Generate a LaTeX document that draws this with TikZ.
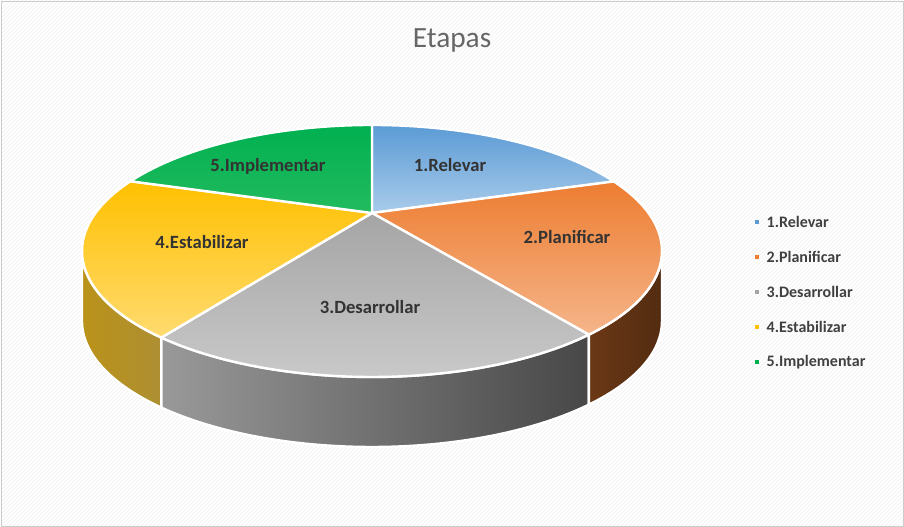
\documentclass[tikz,border=0pt]{standalone}
\usepackage{fontspec}
\setmainfont{Carlito}
\usetikzlibrary{calc,patterns}
\definecolor{cblue}{HTML}{5B9BD5}\definecolor{cblueL}{HTML}{A9CBEA}
\definecolor{corg}{HTML}{ED7D31}\definecolor{corgL}{HTML}{F5B58A}
\definecolor{cgry}{HTML}{A5A5A5}\definecolor{cgryL}{HTML}{CACACA}
\definecolor{cyel}{HTML}{FFC000}\definecolor{cyelL}{HTML}{FFDB70}
\definecolor{cgrn}{HTML}{00B050}\definecolor{cgrnL}{HTML}{22BB5E}
\tikzset{lab/.style={font=\bfseries\fontsize{14}{16}\selectfont,text=black!80},
 leg/.style={font=\bfseries\fontsize{12}{14}\selectfont,text=black!75,anchor=west},
 sep/.style={draw=white,line width=1.8pt,line join=round}}
\newcommand{\slicetop}[4]{\shade[top color=#3,bottom color=#4] (V) -- ($(C)+(#1:217.5pt and 94.5pt)$) arc[start angle=#1,end angle=#2,x radius=217.5pt,y radius=94.5pt] -- cycle;
 \draw[sep] (V) -- ($(C)+(#1:217.5pt and 94.5pt)$) arc[start angle=#1,end angle=#2,x radius=217.5pt,y radius=94.5pt] -- cycle;}
\newcommand{\sideseg}[4]{\shade[left color=#3,right color=#4] ($(C)+(#1:217.5pt and 94.5pt)$) arc[start angle=#1,end angle=#2,x radius=217.5pt,y radius=94.5pt] -- ++(0,-52.5pt) arc[start angle=#2,end angle=#1,x radius=217.5pt,y radius=94.5pt] -- cycle;
 \draw[sep] ($(C)+(#1:217.5pt and 94.5pt)$) arc[start angle=#1,end angle=#2,x radius=217.5pt,y radius=94.5pt] -- ++(0,-52.5pt) arc[start angle=#2,end angle=#1,x radius=217.5pt,y radius=94.5pt] -- cycle;}
\begin{document}
\begin{tikzpicture}[x=0.75pt,y=0.75pt]
\useasboundingbox (0,0) rectangle (904,527);
\fill[white] (0,0) rectangle (904,527);
\fill[pattern=north east lines,pattern color=black!6] (1,1) rectangle (903,526);
\draw[black!20] (1,1) rectangle (903,526);
\node[font=\fontsize{22}{26}\selectfont,text=black!60] (title) at (452,487) {Etapas};
\coordinate (C) at (372,276);
\coordinate (V) at (372,314);
\sideseg{180}{223.4}{cyel!70!black!90}{cyel!60!black!80}
\sideseg{223.4}{318.4}{black!40}{black!72}
\sideseg{318.4}{360}{corg!45!black}{corg!35!black}
\slicetop{90}{33.5}{cblue}{cblueL}
\slicetop{33.5}{-41.6}{corg}{corgL}
\slicetop{-41.6}{-136.6}{cgry}{cgryL}
\slicetop{223.4}{146.4}{cyel}{cyelL}
\slicetop{146.4}{90}{cgrn}{cgrnL}
\node[lab] (l1) at (450,362) {1.Relevar};
\node[lab] (l2) at (567,290) {2.Planificar};
\node[lab] (l3) at (370,220) {3.Desarrollar};
\node[lab] (l4) at (202,285) {4.Estabilizar};
\node[lab] (l5) at (268,361) {5.Implementar};
\foreach \c/\t/\y in {cblue/1.Relevar/305,corg/2.Planificar/270,cgry/3.Desarrollar/235,cyel/4.Estabilizar/200,cgrn/5.Implementar/165}{
 \fill[\c] (755,\y-2) rectangle (759,\y+2);
 \node[leg] at (762,\y) {\t};}
\end{tikzpicture}
\end{document}
